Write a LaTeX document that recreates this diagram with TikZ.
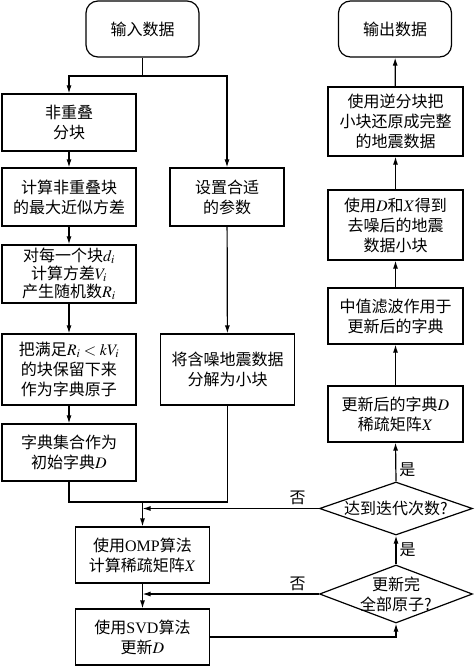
\documentclass[tikz,border=0pt]{standalone}
\usepackage{mathptmx}
\usepackage{fontspec}
\setmainfont{Noto Sans CJK SC}
\newfontfamily\lat{Liberation Serif}
\usetikzlibrary{arrows.meta,shapes.geometric}

\begin{document}
\begin{tikzpicture}[->,>={Latex[length=8pt,width=5pt]},x=1pt,y=1pt,line width=1.2pt]
\tikzstyle{every node}=[font=\fontsize{16}{20}\selectfont,align=center,inner sep=3pt]
\tikzstyle{box}=[draw,rectangle,minimum width=134pt,minimum height=57pt]
\tikzstyle{term}=[box,rounded corners=12pt,minimum width=113pt,minimum height=56pt]
\tikzstyle{decide}=[draw,diamond,minimum width=153pt,minimum height=53pt,inner sep=0pt]
\useasboundingbox (0,0) rectangle (474,-666);
% start and end
\node [term] (in) at (142.5,-29) {输入数据};
\node [term] (out) at (395,-29) {输出数据};
% left column
\node [box] (b1) at (69,-122.5) {非重叠\\分块};
\node [box,minimum height=58pt] (b2) at (69,-197) {计算非重叠块\\的最大近似方差};
\node [box,minimum height=58pt,font=\fontsize{16}{18}\selectfont] (b3) at (69,-274) {对每一个块$d_i$\\计算方差$V_i$\\产生随机数$R_i$};
\node [box,minimum height=71pt] (b4) at (69,-369.5) {把满足$R_i<kV_i$\\的块保留下来\\作为字典原子};
\node [box] (b5) at (69,-452.5) {字典集合作为\\初始字典$D$};
% middle column
\node [box,minimum width=114pt,minimum height=58pt] (p1) at (227,-197) {设置合适\\的参数};
\node [box,minimum height=71pt] (p2) at (227.5,-369.5) {将含噪地震数据\\分解为小块};
% iteration
\node [box,minimum height=56pt] (omp) at (142.5,-555) {使用{\lat OMP}算法\\计算稀疏矩阵$X$};
\node [box,minimum height=56pt] (svd) at (142.5,-637) {使用{\lat SVD}算法\\更新$D$};
\node [decide,label=center:{达到迭代次数?}] (d1) at (396,-508.5) {};
\node [decide,minimum height=58pt,label=center:{更新完\\全部原子?}] (d2) at (396,-594) {};
% right column
\node [box,minimum width=135pt,minimum height=56pt] (r1) at (395.5,-414) {更新后的字典$D$\\稀疏矩阵$X$};
\node [box,minimum width=135pt,minimum height=56pt] (r2) at (395.5,-316) {中值滤波作用于\\更新后的字典};
\node [box,minimum width=135pt,minimum height=70pt] (r3) at (395.5,-225) {使用$D$和$X$得到\\去噪后的地震\\数据小块};
\node [box,minimum width=135pt,minimum height=69pt] (r4) at (395.5,-121.5) {使用逆分块把\\小块还原成完整\\的地震数据};

\coordinate (split) at (142.5,-76);
\coordinate (merge) at (142.5,-502);

\draw [-] (in) -- (split);
\draw (split) -| (b1);
\draw (split) -| (p1);
\path (b1) edge (b2)
      (b2) edge (b3)
      (b3) edge (b4)
      (b4) edge (b5)
      (p1) edge (p2);
\draw [-] (b5.south) |- (merge) -| (p2.south);
\path (merge) edge (omp)
      (omp) edge (svd);
\path (d1.west) edge node[pos=0.12,above] {否} (d1.west -| omp.north)
      (d2.west) edge node[pos=0.12,above] {否} (d2.west -| svd.north);
\draw (svd.east) -| (d2.south);
\path (d2.north) edge node[midway,right] {是} (d1.south)
      (d1.north) edge node[pos=0.3,right] {是} (r1.south)
      (r1) edge (r2)
      (r2) edge (r3)
      (r3) edge (r4)
      (r4) edge (out);

\end{tikzpicture}
\end{document}
